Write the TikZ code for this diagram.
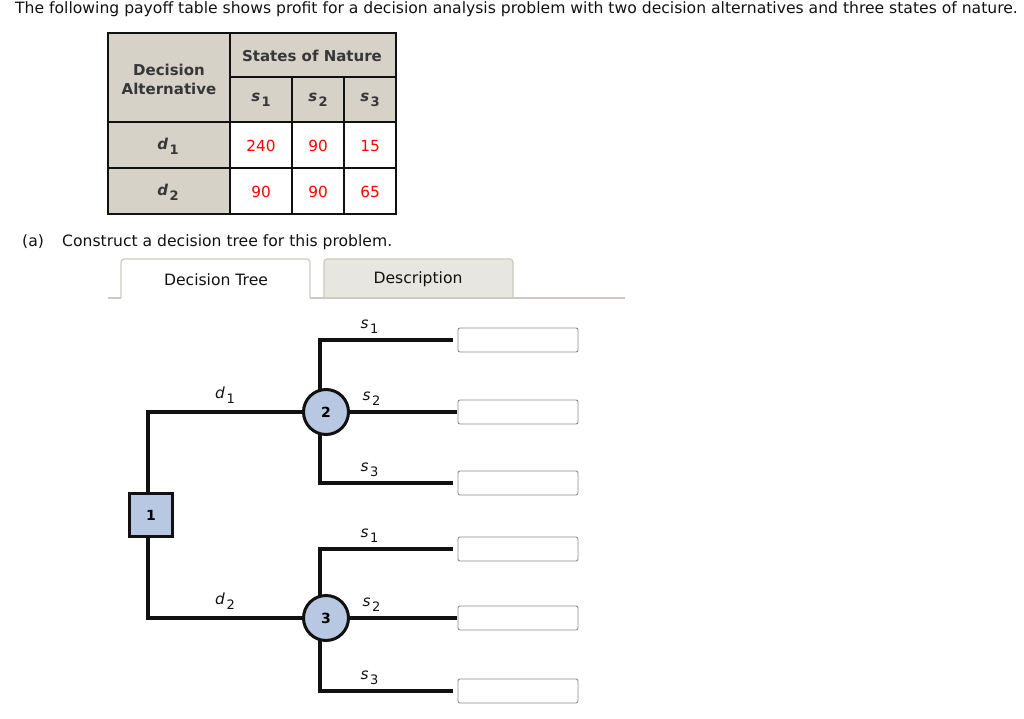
\documentclass[tikz,border=0pt]{standalone}
\usepackage{fontspec}
\setmainfont{DejaVu Sans}
\usetikzlibrary{positioning,backgrounds}

\definecolor{hdrgray}{RGB}{214,210,200}
\definecolor{hdrtext}{RGB}{55,55,55}
\definecolor{nodeblue}{RGB}{185,200,226}
\definecolor{tabline}{RGB}{205,202,194}
\definecolor{tabgray}{RGB}{232,230,224}
\definecolor{boxline}{RGB}{140,140,140}
\definecolor{valred}{RGB}{255,0,0}
\definecolor{ink}{RGB}{17,17,17}

\newcommand{\slbl}[2]{\textit{#1}\kern1.5pt\raisebox{-0.6ex}{\fontsize{13}{13}\selectfont #2}}

\tikzset{
  txt/.style={inner sep=0pt, font=\fontsize{15.6}{19}\selectfont, text=ink},
  hdr/.style={inner sep=0pt, font=\fontsize{15}{19}\selectfont\bfseries, text=hdrtext, align=center},
  val/.style={inner sep=0pt, font=\fontsize{15.3}{19}\selectfont, text=valred},
  dnode/.style={draw=ink, line width=3pt, fill=nodeblue, minimum size=43pt, inner sep=0pt, font=\fontsize{14}{14}\selectfont\bfseries},
  cnode/.style={dnode, circle, minimum size=45pt},
  payoff/.style={draw=boxline, line width=0.9pt, rounded corners=2pt, minimum width=120pt, minimum height=24pt, inner sep=0pt},
  branch/.style={draw=ink, line width=3.5pt},
  lbl/.style={inner sep=0pt, font=\fontsize{15.3}{19}\selectfont, text=ink}
}

\begin{document}
\begin{tikzpicture}[x=1pt, y=-1pt]
    \useasboundingbox (0,0) rectangle (1024,719);

    % question text
    \node[txt, anchor=base west] (title) at (15,14)
      {The following payoff table shows profit for a decision analysis problem with two decision alternatives and three states of nature.};

    % payoff table
    \fill[hdrgray] (108,33) rectangle (396,122);
    \fill[hdrgray] (108,122) rectangle (230,214);
    \draw[ink, line width=1.2pt] (108,33) rectangle (396,214);
    \draw[ink, line width=1.2pt] (230,33) -- (230,214);
    \draw[ink, line width=1.2pt] (230,77) -- (396,77);
    \draw[ink, line width=1.2pt] (108,122) -- (396,122);
    \draw[ink, line width=1.2pt] (108,168) -- (396,168);
    \draw[ink, line width=1.2pt] (292,77) -- (292,214);
    \draw[ink, line width=1.2pt] (344,77) -- (344,214);

    \node[hdr] (dalt) at (169,79) {Decision\\Alternative};
    \node[hdr] (states) at (312,56) {States of Nature};
    \node[hdr] (hs1) at (261,100) {\slbl{s}{1}};
    \node[hdr] (hs2) at (318,100) {\slbl{s}{2}};
    \node[hdr] (hs3) at (370,100) {\slbl{s}{3}};
    \node[hdr] (hd1) at (168,146) {\slbl{d}{1}};
    \node[hdr] (hd2) at (168,192) {\slbl{d}{2}};

    \node[val] (v11) at (261,146) {240};
    \node[val] (v12) at (318,146) {90};
    \node[val] (v13) at (370,146) {15};
    \node[val] (v21) at (261,192) {90};
    \node[val] (v22) at (318,192) {90};
    \node[val] (v23) at (370,192) {65};

    % part (a)
    \node[txt, anchor=west] (parta) at (22,242) {(a)};
    \node[txt, anchor=west] (task) at (62,242) {Construct a decision tree for this problem.};

    % tabs
    \filldraw[fill=tabgray, draw=tabline, line width=1.2pt, rounded corners=3pt]
      (324,298) -- (324,259) -- (513,259) -- (513,298);
    \draw[tabline, line width=1.2pt, rounded corners=3pt]
      (121,298) -- (121,259) -- (310,259) -- (310,298);
    \draw[tabline, line width=1.8pt] (108,298) -- (121,298);
    \draw[tabline, line width=1.8pt] (310,298) -- (625,298);
    \node[txt] (tabtree) at (216,280) {Decision Tree};
    \node[txt] (tabdesc) at (418,279) {Description};

    % decision tree
    \node[dnode] (n1) at (151,515) {1};
    \node[cnode] (n2) at (326,412) {2};
    \node[cnode] (n3) at (326,618) {3};

    \node[payoff] (p21) at (518,340) {};
    \node[payoff] (p22) at (518,412) {};
    \node[payoff] (p23) at (518,483) {};
    \node[payoff] (p31) at (518,549) {};
    \node[payoff] (p32) at (518,618) {};
    \node[payoff] (p33) at (518,691) {};

    \begin{scope}[on background layer]
    \draw[branch] ([xshift=-3pt]n1.center) |- (n2) node[lbl, pos=0.75, above=7pt] (ld1) {\slbl{d}{1}};
    \draw[branch] ([xshift=-3pt]n1.center) |- (n3) node[lbl, pos=0.75, above=7pt] (ld2) {\slbl{d}{2}};

    \draw[branch, shorten >=5pt] ([xshift=-6pt]n2.center) |- (p21.west) node[lbl, pos=0.68, above=5pt] (l21) {\slbl{s}{1}};
    \draw[branch, shorten >=1pt] (n2) -- (p22) node[lbl, pos=0.2, above=5pt] (l22) {\slbl{s}{2}};
    \draw[branch, shorten >=5pt] ([xshift=-6pt]n2.center) |- (p23.west) node[lbl, pos=0.68, above=5pt] (l23) {\slbl{s}{3}};

    \draw[branch, shorten >=5pt] ([xshift=-6pt]n3.center) |- (p31.west) node[lbl, pos=0.68, above=5pt] (l31) {\slbl{s}{1}};
    \draw[branch, shorten >=1pt] (n3) -- (p32) node[lbl, pos=0.2, above=5pt] (l32) {\slbl{s}{2}};
    \draw[branch, shorten >=5pt] ([xshift=-6pt]n3.center) |- (p33.west) node[lbl, pos=0.68, above=5pt] (l33) {\slbl{s}{3}};
    \end{scope}
\end{tikzpicture}
\end{document}
